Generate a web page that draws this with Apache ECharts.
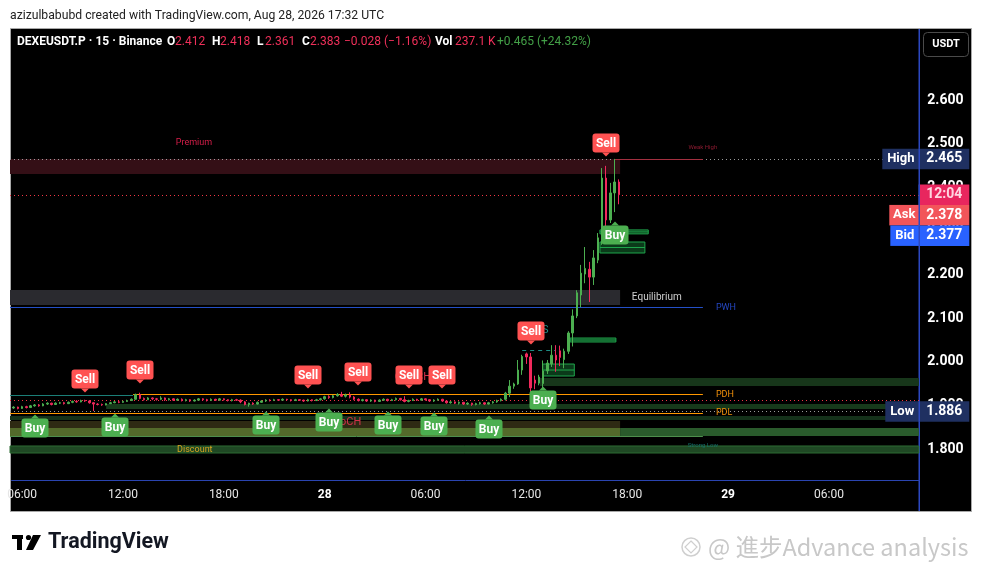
<!DOCTYPE html>
<html><head><meta charset="utf-8">
<script src="https://cdn.jsdelivr.net/npm/echarts@6/dist/echarts.min.js"></script>
<style>html,body{margin:0;padding:0;background:#fff}#c{width:983px;height:572px}</style>
</head><body><div id="c"></div>
<script>
// ================= DATA =================
// 15-minute bars of DEXEUSDT.P; bar t=0 is Aug 27 06:00 UTC, first category is t=-2
const firstBarUTC = [2026, 7, 27, 5, 30];
const barCount = 216;            // categories shown on the time axis (t = -2 .. 213)
const firstBarT = -2;

const opens = [
 1.894,1.896,1.893,1.897,1.895,
 1.899,1.901,1.899,1.903,1.905,1.902,1.905,1.906,1.904,
 1.907,1.909,1.908,1.911,1.910,1.906,1.903,1.902,1.901,
 1.904,1.906,1.908,1.907,1.909,1.911,1.914,1.925,1.916,
 1.913,1.917,1.915,1.914,1.917,1.913,1.915,1.912,1.914,1.911,
 1.913,1.910,1.912,1.915,1.913,1.911,1.914,1.912,1.915,1.913,
 1.911,1.913,1.912,1.908,1.902,1.905,1.903,1.907,1.910,1.912,
 1.911,1.913,1.912,1.914,1.913,1.911,1.913,1.912,1.910,1.913,
 1.911,1.913,1.915,1.920,1.918,1.922,1.925,1.921,1.924,1.919,
 1.914,1.911,1.913,1.910,1.912,1.909,1.912,1.914,1.911,1.913,
 1.916,1.913,1.909,1.911,1.914,1.912,1.915,1.913,1.910,1.912,
 1.914,1.910,1.906,1.908,1.905,1.907,1.903,1.905,1.902,1.904,
 1.906,1.903,1.906,1.908,1.911,1.914,1.928,1.944,1.949,1.981,
 2.018,2.011,1.958,1.951,1.950,1.979,1.995,2.015,2.025,2.005,
 2.024,2.066,2.105,2.153,2.201,2.212,2.194,2.233,2.279,2.421,
 2.325,2.387,2.412];
const closes = [
 1.896,1.893,1.897,1.895,1.899,
 1.901,1.899,1.903,1.905,1.902,1.905,1.906,1.904,1.907,
 1.909,1.908,1.911,1.910,1.906,1.903,1.902,1.901,1.904,
 1.906,1.908,1.907,1.909,1.911,1.914,1.925,1.916,1.913,
 1.917,1.915,1.914,1.917,1.913,1.915,1.912,1.914,1.911,1.913,
 1.910,1.912,1.915,1.913,1.911,1.914,1.912,1.915,1.913,1.911,
 1.913,1.912,1.908,1.902,1.905,1.903,1.907,1.910,1.912,1.911,
 1.913,1.912,1.914,1.913,1.911,1.913,1.912,1.910,1.913,1.911,
 1.913,1.915,1.920,1.918,1.922,1.925,1.921,1.924,1.919,1.914,
 1.911,1.913,1.910,1.912,1.909,1.912,1.914,1.911,1.913,1.916,
 1.913,1.909,1.911,1.914,1.912,1.915,1.913,1.910,1.912,1.914,
 1.910,1.906,1.908,1.905,1.907,1.903,1.905,1.902,1.904,1.906,
 1.903,1.906,1.908,1.911,1.914,1.928,1.944,1.949,1.981,2.012,
 2.011,1.940,1.951,1.965,1.979,1.997,2.015,2.004,2.010,2.024,
 2.066,2.105,2.158,2.203,2.214,2.194,2.238,2.284,2.421,2.325,
 2.387,2.412,2.383];
const lows = [
 1.892,1.891,1.892,1.893,1.894,
 1.897,1.897,1.898,1.901,1.900,1.901,1.903,1.902,1.903,
 1.905,1.906,1.907,1.908,1.904,1.887,1.900,1.899,1.900,
 1.903,1.905,1.905,1.906,1.908,1.910,1.913,1.914,1.911,
 1.912,1.912,1.911,1.912,1.910,1.911,1.910,1.910,1.909,1.909,
 1.908,1.909,1.911,1.911,1.909,1.910,1.910,1.911,1.911,1.909,
 1.909,1.910,1.905,1.900,1.897,1.901,1.902,1.906,1.908,1.909,
 1.910,1.910,1.911,1.911,1.909,1.910,1.910,1.908,1.909,1.909,
 1.910,1.911,1.913,1.915,1.916,1.920,1.919,1.918,1.916,1.912,
 1.909,1.909,1.908,1.908,1.907,1.908,1.910,1.909,1.910,1.911,
 1.911,1.907,1.907,1.910,1.910,1.911,1.911,1.908,1.908,1.911,
 1.908,1.904,1.904,1.903,1.902,1.901,1.901,1.899,1.900,1.902,
 1.901,1.902,1.904,1.906,1.909,1.911,1.919,1.938,1.947,1.970,
 1.995,1.924,1.937,1.946,1.936,1.972,1.988,1.977,1.990,1.985,
 2.018,2.035,2.100,2.125,2.180,2.137,2.176,2.226,2.268,2.302,
 2.318,2.343,2.361];
const highs = [
 1.898,1.897,1.899,1.899,1.901,
 1.903,1.903,1.905,1.907,1.906,1.907,1.908,1.908,1.909,
 1.911,1.912,1.913,1.913,1.912,1.907,1.905,1.904,1.905,
 1.908,1.910,1.910,1.911,1.913,1.916,1.927,1.929,1.918,
 1.919,1.918,1.917,1.921,1.918,1.917,1.916,1.916,1.916,1.915,
 1.914,1.914,1.917,1.916,1.915,1.916,1.915,1.917,1.916,1.914,
 1.915,1.915,1.914,1.910,1.906,1.907,1.909,1.912,1.914,1.914,
 1.915,1.914,1.916,1.915,1.914,1.915,1.914,1.913,1.915,1.914,
 1.915,1.917,1.922,1.923,1.924,1.928,1.931,1.927,1.930,1.921,
 1.916,1.915,1.914,1.914,1.913,1.914,1.916,1.915,1.915,1.918,
 1.917,1.921,1.913,1.916,1.915,1.917,1.916,1.914,1.914,1.916,
 1.915,1.911,1.910,1.909,1.909,1.908,1.907,1.906,1.906,1.908,
 1.907,1.908,1.910,1.913,1.916,1.931,1.958,1.952,2.004,2.016,
 2.021,2.020,1.968,1.970,2.003,2.004,2.038,2.038,2.037,2.030,
 2.070,2.120,2.164,2.222,2.263,2.229,2.256,2.295,2.444,2.449,
 2.410,2.465,2.418];

const priceTicks = [1.8, 1.9, 2.0, 2.1, 2.2, 2.3, 2.4, 2.5, 2.6];
const priceMin = 1.72894, priceMax = 2.76046;

// signals: [bar t, price at label]
const sellSignals = [[15,1.9604],[28,1.9811],[68,1.9696],[80,1.9765],[92,1.9696],[100,1.9696],[121,2.0705],[139,2.5014]];
const buySignals  = [[3,1.8481],[22,1.8504],[58,1.8550],[73,1.8619],[87,1.8550],[98,1.8527],[111,1.8458],[124,1.9123],[141,2.2905]];

// zones: [styleKey, t start, t end, price low, price high]
const zones = [
 ['premium',     -2.88, 142.3, 2.4304, 2.4650],
 ['equilibrium', -2.88, 142.3, 2.1301, 2.1645],
 ['obLine',      137.5, 149.0, 2.2931, 2.3022],
 ['obBox',       137.5, 148.2, 2.2493, 2.2745],
 ['obLine',      130.4, 141.3, 2.0453, 2.0544],
 ['obBox',       123.9, 131.4, 1.9673, 1.9948],
 ['demand',      123.2, 213.4, 1.9444, 1.9627],
 ['range',        20.0, 213.4, 1.8917, 1.9031],
 ['band2',       -2.88, 213.4, 1.8665, 1.8756],
 ['brown',       -2.88, 142.3, 1.8481, 1.8642],
 ['olive',       -2.88, 142.3, 1.8298, 1.8481],
 ['oliveExt',    142.3, 213.4, 1.8298, 1.8481],
 ['discount',    -2.88, 213.4, 1.7908, 1.8069]
];

// levels: [styleKey, t start, t end, price]
const levels = [
 ['dotGray',  -2.88, 213.4, 2.465],
 ['dotRed',   -2.88, 213.4, 2.383],
 ['dotRed',   -2.88, 213.4, 1.9123],
 ['dotGray',  -2.88, 213.4, 1.886],
 ['weakHigh', 141.1, 162.0, 2.465],
 ['pwh',      -2.88, 162.0, 2.1244],
 ['teal',     -2.88,  26.4, 1.9230],
 ['orange',    26.4, 162.0, 1.9254],
 ['orange',   -2.88, 162.0, 1.8825],
 ['tealDash', 119.0, 127.0, 2.0270],
 ['greenEdge',-2.88, 162.0, 1.8298]
];

// labels: [text, t, price, styleKey]
const zoneLabels = [
 ['Premium',     40.9, 2.5014, 'premium'],
 ['Equilibrium',145.1, 2.1484, 'equilibrium'],
 ['PWH',        165.1, 2.1244, 'pwh'],
 ['PDH',        165.1, 1.9254, 'pdx'],
 ['PDL',        165.1, 1.8825, 'pdx'],
 ['Weak High',  162.0, 2.4920, 'weakHigh'],
 ['Strong Low', 162.0, 1.8070, 'strongLow'],
 ['Discount',    41.1, 1.7977, 'discount'],
 ['CHoCH',       76.4, 1.8619, 'choch'],
 ['CHoCH',       93.0, 1.9650, 'choch'],
 ['BOS',        122.8, 2.0728, 'bos']
];

// price scale tags: [label, price, text]  (sorted high -> low)
const priceTags = [
 ['High', 2.465, '2.465'],
 ['',     2.383, '12:04'],
 ['Ask',  2.378, '2.378'],
 ['Bid',  2.377, '2.377'],
 ['Low',  1.886, '1.886']
];

const headerSymbol = 'DEXEUSDT.P · 15 · Binance';
const headerOHLC = [['O','2.412'],['H','2.418'],['L','2.361'],['C','2.383']];
const headerChange = '−0.028 (−1.16%)';
const headerVol = '237.1 K';
const headerVolChange = '+0.465 (+24.32%)';
const captionText = 'azizulbabubd created with TradingView.com, Aug 28, 2026 17:32 UTC';
const watermarkText = '@ 進步Advance analysis';

// ================= STYLES =================
const UP = '#4caf50', DOWN = '#f2295c';
const zoneStyle = {
 premium:     {fill:'#340f16'},
 equilibrium: {fill:'#2a2a2f'},
 obLine:      {fill:'#0b3a1a', stroke:'#1fa64c', lw:1, mid:true},
 obBox:       {fill:'#0b3a1a', stroke:'#1fa64c', lw:1, mid:true},
 demand:      {fill:'#17361a'},
 range:       {fill:'#173a1b'},
 band2:       {fill:'#14311a'},
 brown:       {fill:'#2e2a13'},
 olive:       {fill:'#536a2b'},
 oliveExt:    {fill:'#2a5b2c'},
 discount:    {fill:'#1f4824', stroke:'#2d6b33', lw:1}
};
const levelStyle = {
 dotGray:  {color:'#9a9a9a', width:1, dash:[1,3]},
 dotRed:   {color:'#f23645', width:1, dash:[1,3]},
 weakHigh: {color:'#a33040', width:1},
 pwh:      {color:'#2450c8', width:1.2},
 teal:     {color:'#1b7f78', width:1},
 orange:   {color:'#ff9800', width:1.2},
 tealDash: {color:'#1d8c84', width:1, dash:[4,4]},
 greenEdge:{color:'#4d8f4d', width:1}
};
const labelStyle = {
 premium:     {color:'#d81e4a', size:9,  align:'center'},
 equilibrium: {color:'#d0d0d0', size:10, align:'left'},
 pwh:         {color:'#2446c0', size:9,  align:'left'},
 pdx:         {color:'#f0900a', size:9,  align:'left'},
 weakHigh:    {color:'#8a1a30', size:6,  align:'center'},
 strongLow:   {color:'#15706a', size:6,  align:'center'},
 discount:    {color:'#d8a520', size:9,  align:'center'},
 choch:       {color:'#d0304a', size:11, align:'center'},
 bos:         {color:'#1d8c84', size:11, align:'center'}
};
const tagStyle = {
 'High': {fill:'#1f3061', labelW:37},
 '':     {fill:'#e8265e', labelW:0, textColor:'#ffd6e0'},
 'Ask':  {fill:'#f2555a', labelW:30},
 'Bid':  {fill:'#2962ff', labelW:29},
 'Low':  {fill:'#1f3061', labelW:34}
};
const FONT = 'Roboto, "Noto Sans", sans-serif';

// ================= BUILD =================
const categories = [];
const base = Date.UTC.apply(null, firstBarUTC);
for (let i = 0; i < barCount; i++) {
  categories.push(new Date(base + i * 900000).toISOString().slice(0, 16).replace('T', ' '));
}
const candleData = opens.map((o, i) => [o, closes[i], lows[i], highs[i]]);
const tMin = firstBarT - 0.5, tMax = firstBarT + barCount - 0.5;

function txt(text, x, y, fill, size, weight, align, family, z) {
  return {type:'text', x:x, y:y, z:z || 20, style:{text:text, fill:fill, fontSize:size, fontWeight:weight||'normal',
    fontFamily:family||FONT, align:align||'left', verticalAlign:'middle', textAlign:align||'left', textVerticalAlign:'middle'}};
}

function renderZone(params, api) {
  const z = zones[params.dataIndex], st = zoneStyle[z[0]];
  const a = api.coord([z[1], z[4]]), b = api.coord([z[2], z[3]]);
  const ch = [{type:'rect', shape:{x:a[0], y:a[1], width:b[0]-a[0], height:b[1]-a[1]},
     style:{fill:st.fill, stroke:st.stroke||null, lineWidth:st.lw||0}}];
  if (st.mid) {
    const my = (a[1] + b[1]) / 2;
    ch.push({type:'line', shape:{x1:a[0], y1:my, x2:b[0], y2:my}, style:{stroke:st.stroke, lineWidth:1}});
  }
  return {type:'group', children:ch};
}
function renderLevel(params, api) {
  const l = levels[params.dataIndex], st = levelStyle[l[0]];
  const a = api.coord([l[1], l[3]]), b = api.coord([l[2], l[3]]);
  const y = Math.round(a[1]) + 0.5;
  return {type:'line', shape:{x1:a[0], y1:y, x2:b[0], y2:y},
    style:{stroke:st.color, lineWidth:st.width, lineDash:st.dash||null}};
}
function renderLabel(params, api) {
  const l = zoneLabels[params.dataIndex], st = labelStyle[l[3]];
  const p = api.coord([l[1], l[2]]);
  return {type:'text', style:{text:l[0], x:p[0], y:p[1], fill:st.color, fontSize:st.size, fontFamily:FONT,
    align:st.align, verticalAlign:'middle', textAlign:st.align, textVerticalAlign:'middle'}};
}
function makeSignalRenderer(list, isSell) {
  return function (params, api) {
    const s = list[params.dataIndex];
    const c = api.coord([s[0], s[1]]);
    const w = 27, h = 19, cx = Math.round(c[0]), cy = Math.round(c[1]);
    const x = cx - w / 2, y = cy - h / 2;
    const fill = isSell ? '#ff5252' : '#4caf50';
    const tri = isSell ? [[cx-4, y+h], [cx+4, y+h], [cx, y+h+4]] : [[cx-4, y], [cx+4, y], [cx, y-4]];
    return {type:'group', children:[
      {type:'rect', shape:{x:x, y:y, width:w, height:h, r:3}, style:{fill:fill}},
      {type:'polygon', shape:{points:tri}, style:{fill:fill}},
      {type:'text', style:{text:isSell ? 'Sell' : 'Buy', x:cx, y:cy+0.5, fill:'#ffffff', fontSize:12, fontWeight:'bold',
        fontFamily:FONT, align:'center', verticalAlign:'middle', textAlign:'center', textVerticalAlign:'middle'}}
    ]};
  };
}
let tagBottom = -Infinity;
function renderTag(params, api) {
  if (params.dataIndex === 0) tagBottom = -Infinity;
  const t = priceTags[params.dataIndex], st = tagStyle[t[0]];
  const yc = api.coord([0, t[1]])[1];
  const h = 20.5;
  const top = Math.max(yc - h / 2, tagBottom);
  tagBottom = top + h;
  const x0 = params.coordSys.x + params.coordSys.width;
  const ch = [{type:'rect', shape:{x:x0, y:top, width:50, height:h}, style:{fill:st.fill}},
    {type:'text', style:{text:t[2], x:x0+25, y:top+h/2, fill:st.textColor||'#ffffff', fontSize:14, fontWeight:'bold',
      fontFamily:FONT, align:'center', verticalAlign:'middle', textAlign:'center', textVerticalAlign:'middle'}}];
  if (st.labelW) {
    ch.push({type:'rect', shape:{x:x0-st.labelW, y:top, width:st.labelW, height:h}, style:{fill:st.fill}});
    ch.push({type:'text', style:{text:t[0], x:x0-st.labelW/2, y:top+h/2, fill:'#ffffff', fontSize:13, fontWeight:'bold',
      fontFamily:FONT, align:'center', verticalAlign:'middle', textAlign:'center', textVerticalAlign:'middle'}});
  }
  // price-scale separator line drawn over the tags
  ch.push({type:'rect', shape:{x:Math.floor(x0) - 0.5, y:top, width:1.5, height:h}, style:{fill:'#2c48c0'}});
  return {type:'group', children:ch};
}

const chart = echarts.init(document.getElementById('c'), null, {renderer:'canvas'});
const gridLeft = 11.6, gridRight = 63.7, gridTop = 30, gridBottom = 92;

const headerEls = [txt(headerSymbol, 17, 42, '#ffffff', 12, 'bold')];
const ohlcX = [167, 212, 257, 302];
headerOHLC.forEach((p, i) => {
  headerEls.push(txt(p[0], ohlcX[i], 42, '#ffffff', 12, 'bold'));
  headerEls.push(txt(p[1], ohlcX[i] + 8, 42, '#f0305a', 12));
});
headerEls.push(txt(headerChange, 344, 42, '#f0305a', 12));
headerEls.push(txt('Vol', 435, 42, '#ffffff', 12, 'bold'));
headerEls.push(txt(headerVol, 455, 42, '#f0305a', 12));
headerEls.push(txt(headerVolChange, 497, 42, '#43a047', 12));

const option = {
  backgroundColor: '#ffffff',
  animation: false,
  grid: {left:gridLeft, right:gridRight, top:gridTop, bottom:gridBottom, containLabel:false},
  xAxis: [
    {type:'category', data:categories, boundaryGap:true,
     axisLine:{show:true, onZero:false, lineStyle:{color:'#2a44b0', width:1}},
     axisTick:{show:false}, splitLine:{show:false},
     axisLabel:{
       interval: function (i, v) { return v.slice(14) === '00' && (+v.slice(11, 13)) % 6 === 0; },
       formatter: function (v) { const hm = v.slice(11); return hm === '00:00' ? '{d|' + (+v.slice(8, 10)) + '}' : hm; },
       color:'#e6e6e6', fontSize:12, fontFamily:FONT, margin:9,
       rich:{d:{fontWeight:'bold', color:'#ffffff', fontSize:12, fontFamily:FONT}}
     }},
    {type:'value', min:tMin, max:tMax, show:false}
  ],
  yAxis: {type:'value', position:'right', min:priceMin, max:priceMax,
    axisLine:{show:false, onZero:false}, axisTick:{show:false}, splitLine:{show:false},
    axisLabel:{customValues:priceTicks, formatter:function (v) { return v.toFixed(3); },
      color:'#ffffff', fontSize:14, fontWeight:'bold', fontFamily:FONT, margin:8}},
  series: [
    {type:'custom', name:'zones', xAxisIndex:1, yAxisIndex:0, z:1, clip:false, silent:true,
     data:zones.map(z => [z[1], z[2], z[3], z[4]]), encode:{x:[0,1], y:[2,3]}, renderItem:renderZone},
    {type:'custom', name:'levels', xAxisIndex:1, yAxisIndex:0, z:2, clip:false, silent:true,
     data:levels.map(l => [l[1], l[2], l[3]]), encode:{x:[0,1], y:2}, renderItem:renderLevel},
    {type:'candlestick', name:'DEXEUSDT.P', xAxisIndex:0, yAxisIndex:0, z:3, data:candleData, barWidth:2,
     itemStyle:{color:UP, color0:DOWN, borderColor:UP, borderColor0:DOWN, borderWidth:1}},
    {type:'custom', name:'labels', xAxisIndex:1, yAxisIndex:0, z:4, clip:false, silent:true,
     data:zoneLabels.map(l => [l[1], l[2]]), encode:{x:0, y:1}, renderItem:renderLabel},
    {type:'custom', name:'sell', xAxisIndex:1, yAxisIndex:0, z:5, clip:false, silent:true,
     data:sellSignals.map(s => [s[0], s[1]]), encode:{x:0, y:1}, renderItem:makeSignalRenderer(sellSignals, true)},
    {type:'custom', name:'buy', xAxisIndex:1, yAxisIndex:0, z:5, clip:false, silent:true,
     data:buySignals.map(s => [s[0], s[1]]), encode:{x:0, y:1}, renderItem:makeSignalRenderer(buySignals, false)},
    {type:'custom', name:'tags', xAxisIndex:1, yAxisIndex:0, z:6, clip:false, silent:true,
     data:priceTags.map(t => [0, t[1]]), encode:{x:0, y:1}, renderItem:renderTag}
  ],
  graphic: {elements: [
    {type:'rect', z:-10, shape:{x:10.5, y:28.5, width:961, height:483}, style:{fill:'#000000', stroke:'#a8a8a8', lineWidth:1}},
    {type:'rect', z:-5, shape:{x:918.5, y:29, width:1.5, height:482}, style:{fill:'#2c48c0'}},
    {type:'rect', z:10, shape:{x:923.5, y:32.5, width:45, height:24, r:4}, style:{fill:'#000000', stroke:'#4a4a4a', lineWidth:1}},
    txt('USDT', 946, 44.5, '#ffffff', 11, 'bold', 'center', FONT, 30),
    txt(captionText, 10, 16, '#222222', 12.2, 'normal'),
    // TradingView logo
    {type:'rect', shape:{x:12, y:535, width:11, height:4}, style:{fill:'#000'}},
    {type:'rect', shape:{x:17, y:535, width:5, height:15}, style:{fill:'#000'}},
    {type:'circle', shape:{cx:28.5, cy:537.5, r:2.6}, style:{fill:'#000'}},
    {type:'polygon', shape:{points:[[33,535],[41,535],[33,550],[26,550]]}, style:{fill:'#000'}},
    txt('TradingView', 48, 543, '#131722', 21.5, 'bold'),
    // watermark
    {type:'circle', shape:{cx:691, cy:547, r:9}, style:{fill:'none', stroke:'#cfcfcf', lineWidth:1.5}},
    {type:'polygon', shape:{points:[[691,541],[697,547],[691,553],[685,547]]}, style:{fill:'none', stroke:'#cfcfcf', lineWidth:1.2}},
    txt(watermarkText, 708, 547, '#c8c8c8', 23.5, 'normal', 'left', '"Noto Sans CJK SC", "Noto Sans", sans-serif')
  ].concat(headerEls)}
};
chart.setOption(option);
</script>
</body></html>
